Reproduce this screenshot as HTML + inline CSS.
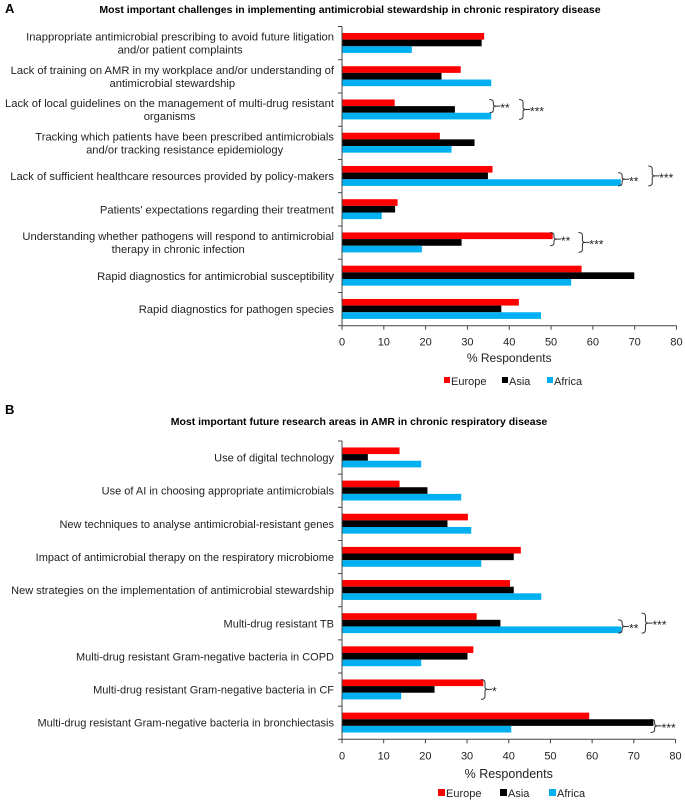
<!DOCTYPE html>
<html><head><meta charset="utf-8"><style>
html,body{margin:0;padding:0;background:#fff;}
svg{display:block;font-family:"Liberation Sans",Arial,sans-serif;}
</style></head><body>
<svg id="fig" width="685" height="801" viewBox="0 0 685 801">
<text x="5" y="13" font-size="13" font-weight="bold">A</text>
<text x="350" y="13" font-size="10.5" font-weight="bold" text-anchor="middle">Most important challenges in implementing antimicrobial stewardship in chronic respiratory disease</text>
<text x="5" y="414" font-size="13" font-weight="bold">B</text>
<text x="359" y="425" font-size="10.5" font-weight="bold" text-anchor="middle">Most important future research areas in AMR in chronic respiratory disease</text>
<g id="ga"></g>
<g id="gb"></g>
</svg>
<script>
const catsA = [
 ["Inappropriate antimicrobial prescribing to avoid future litigation","and/or patient complaints"],
 ["Lack of training on AMR in my workplace and/or understanding of","antimicrobial stewardship"],
 ["Lack of local guidelines on the management of multi-drug resistant","organisms"],
 ["Tracking which patients have been prescribed antimicrobials","and/or tracking resistance epidemiology"],
 ["Lack of sufficient healthcare resources provided by policy-makers"],
 ["Patients' expectations regarding their treatment"],
 ["Understanding whether pathogens will respond to antimicrobial","therapy in chronic infection"],
 ["Rapid diagnostics for antimicrobial susceptibility"],
 ["Rapid diagnostics for pathogen species"]
];
const europeA = [34, 28.4, 12.6, 23.4, 36, 13.3, 50.4, 57.3, 42.3];
const asiaA   = [33.4, 23.8, 27, 31.7, 34.9, 12.7, 28.6, 69.9, 38.1];
const africaA = [16.7, 35.7, 35.7, 26.2, 66.7, 9.5, 19.1, 54.8, 47.6];
const sigA = [[2,36.2,0,1,"**"],[2,43.3,0,2,"***"],[4,67,1,2,"**"],[4,74.2,0,2,"***"],[6,50.7,0,1,"**"],[6,57.5,0,2,"***"]];

const catsB = [
 ["Use of digital technology"],
 ["Use of AI in choosing appropriate antimicrobials"],
 ["New techniques to analyse antimicrobial-resistant genes"],
 ["Impact of antimicrobial therapy on the respiratory microbiome"],
 ["New strategies on the implementation of antimicrobial stewardship"],
 ["Multi-drug resistant TB"],
 ["Multi-drug resistant Gram-negative bacteria in COPD"],
 ["Multi-drug resistant Gram-negative bacteria in CF"],
 ["Multi-drug resistant Gram-negative bacteria in bronchiectasis"]
];
const europeB = [13.8, 13.8, 30.2, 42.9, 40.3, 32.3, 31.5, 33.9, 59.3];
const asiaB   = [6.2, 20.5, 25.3, 41.2, 41.2, 38, 30.1, 22.2, 74.7];
const africaB = [19, 28.6, 31, 33.4, 47.8, 67, 19, 14.2, 40.6];
const sigB = [[5,67.2,1,2,"**"],[5,72.8,0,2,"***"],[7,34.3,0,2,"*"],[8,75,1,2,"***"]];

const ticks = [0,10,20,30,40,50,60,70,80];
const seriesNames = ["Europe","Asia","Africa"];
const colors = ["#ff0000","#000000","#00b0f0"];
const NS = "http://www.w3.org/2000/svg";

function mk(parent, tag, attrs){ const e=document.createElementNS(NS,tag); for(const k in attrs) e.setAttribute(k,attrs[k]); parent.appendChild(e); return e; }

function drawChart(g, cats, series, sig, cfg){
  const x = v => cfg.x0 + v*(cfg.x1-cfg.x0)/80;
  const step = (cfg.bottom-cfg.top)/cats.length;
  const y = i => cfg.top + i*step;
  const bh = step*0.2;
  cats.forEach((c,i)=>{
    series.forEach((s,j)=>{
      const r = mk(g,'rect',{x:x(0),y:y(i)+step*0.195+j*bh,width:x(s[i])-x(0),height:bh,fill:colors[j]});
      
      
    });
    const lg = mk(g,'g',{});
    
    
    const cy = y(i)+step/2;
    const lh = 13;
    const ts = c.map((line,k)=>{
      const t = mk(lg,'text',{x:0,y:cy+4+(k-(c.length-1)/2)*lh,'font-size':cfg.labFont,'text-anchor':'middle',fill:'#222'});
      t.textContent = line; return t;
    });
    const w = Math.max(...ts.map(t=>t.getComputedTextLength()));
    ts.forEach(t=>t.setAttribute('x', cfg.x0-8-w/2));
  });
  const ax = mk(g,'line',{x1:cfg.x0,y1:cfg.top,x2:cfg.x0,y2:cfg.bottom,stroke:'#444','stroke-width':1});
   
  for(let i=0;i<=cats.length;i++) mk(g,'line',{x1:cfg.x0-4,y1:y(i),x2:cfg.x0,y2:y(i),stroke:'#444'});
  const xa = mk(g,'line',{x1:cfg.x0,y1:cfg.bottom,x2:cfg.x1,y2:cfg.bottom,stroke:'#444'});
   
  ticks.forEach(t=>{
    mk(g,'line',{x1:x(t),y1:cfg.bottom,x2:x(t),y2:cfg.bottom+4,stroke:'#444'});
    const tl = mk(g,'text',{x:x(t),y:cfg.bottom+20,'font-size':11,'text-anchor':'middle',fill:'#222'});
    tl.textContent = t;
     
  });
  const at = mk(g,'text',{x:(cfg.x0+cfg.x1)/2,y:cfg.titleY,'font-size':cfg.titleSize,'text-anchor':'middle',fill:'#222'});
  at.textContent = '% Respondents';
   
  sig.forEach(s=>{
    const [i,v,a,b,lab] = s;
    const y1 = y(i)+step*0.195+a*bh, y2 = y(i)+step*0.195+(b+1)*bh, xm = x(v), ym=(y1+y2)/2;
    const p = mk(g,'path',{d:`M${xm-4},${y1} Q${xm},${y1} ${xm},${y1+3} L${xm},${ym-2} Q${xm},${ym} ${xm+3},${ym} Q${xm},${ym} ${xm},${ym+2} L${xm},${y2-3} Q${xm},${y2} ${xm-4},${y2} M${xm+3},${ym} L${xm+7},${ym}`,fill:'none',stroke:'#333','stroke-width':1});
     
    const st = mk(g,'text',{x:xm+7,y:ym+6,'font-size':12,fill:'#222'});
    st.textContent = lab;
     
  });
  cfg.legend.forEach((lx,j)=>{
    const lgE = mk(g,'g',{});
    
    
    mk(lgE,'rect',{x:lx,y:cfg.legY-8,width:cfg.legSq,height:cfg.legSq,fill:colors[j]});
    const t = mk(lgE,'text',{x:lx+cfg.legSq+1,y:cfg.legY,'font-size':cfg.legFont,fill:'#222'});
    t.textContent = seriesNames[j];
  });
}
drawChart(document.getElementById('ga'), catsA, [europeA,asiaA,africaA], sigA,
  {x0:342,x1:676.5,top:26.5,bottom:325.7,titleY:362,titleSize:12,legend:[444,502,547],legY:385,legSq:6,legFont:11,labFont:11.2});
drawChart(document.getElementById('gb'), catsB, [europeB,asiaB,africaB], sigB,
  {x0:342,x1:675.5,top:441,bottom:739.3,titleY:778,titleSize:12.5,legend:[438,500,549],legY:797,legSq:7,legFont:11,labFont:11});
</script>
</body></html>
